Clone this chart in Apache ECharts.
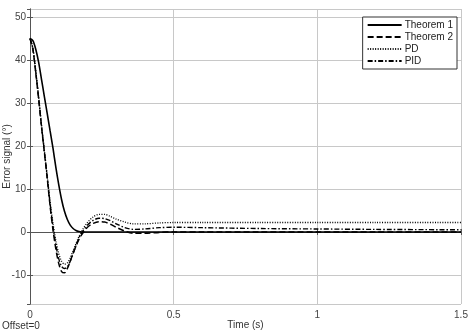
<!DOCTYPE html>
<html>
<head>
<meta charset="utf-8">
<script src="https://cdn.jsdelivr.net/npm/echarts@6/dist/echarts.min.js"></script>
<style>html,body{margin:0;padding:0;background:#fff}#c{width:474px;height:336px}</style>
</head>
<body>
<div id="c"></div>
<script>
var time = [0,0.01,0.02,0.03,0.04,0.05,0.06,0.07,0.08,0.09,0.10,0.11,0.12,0.13,0.14,0.15,0.16,0.17,0.18,0.19,0.20,0.22,0.24,0.26,0.28,0.30,0.33,0.36,0.40,0.45,0.50,0.60,0.80,1.00,1.20,1.50];
var theorem1 = [45,44.5,42.5,39.5,35.5,31.5,27.5,23.5,19.5,15,11,7.5,4.8,2.9,1.6,0.8,0.35,0.1,0,0,0,0,0,0,0,0,0,0,0,0,0,0,0,0,0,0];
var theorem2 = [45,42.5,37,31,24.5,18.5,12.5,6,0.5,-4,-7.3,-9.2,-9.5,-8.5,-6.8,-5,-3.3,-1.8,-0.6,0.3,1.1,2.0,2.4,2.3,1.8,1.1,0.2,-0.3,-0.3,-0.1,0,0,0,0,0,0];
var pd = [45,42.8,37.5,31.5,25,19,13,7,2,-2,-5,-6.8,-7.5,-7.2,-6,-4.4,-2.7,-1.1,0.2,1.3,2.2,3.5,4.1,4.1,3.6,3.0,2.3,1.9,1.9,2.1,2.2,2.2,2.2,2.2,2.2,2.2];
var pid = [45,42.6,37.2,31.2,24.7,18.7,12.7,6.5,1.2,-3,-6.2,-8,-8.5,-8.1,-6.8,-5,-3.2,-1.5,-0.2,0.8,1.6,2.7,3.2,3.1,2.6,1.9,1.0,0.6,0.7,1.0,1.1,1.0,0.8,0.7,0.6,0.5];
var seriesNames = ['Theorem 1','Theorem 2','PD','PID'];
var xTicks = ['0','0.5','1','1.5'];

function pts(v){ return time.map(function(t,i){ return [t, v[i]]; }); }

var font = 'Liberation Sans, Arial, sans-serif';
var chart = echarts.init(document.getElementById('c'));
var axisCol = '#555';
var gridCol = '#c8c8c8';
chart.setOption({
  animation: false,
  backgroundColor: '#fff',
  grid: {left: 30, right: 13, top: 9, bottom: 32, containLabel: false, outerBoundsMode: 'none'},
  legend: {
    right: 17, top: 17,
    orient: 'vertical',
    backgroundColor: '#fff',
    borderColor: '#333', borderWidth: 1,
    padding: [3, 4, 3, 4],
    itemGap: 2, itemWidth: 34, itemHeight: 10,
    itemStyle: {color: 'rgba(0,0,0,0)', borderWidth: 0},
    textStyle: {fontFamily: font, fontSize: 10, color: '#222', padding: [0,0,0,-2]},
    data: seriesNames
  },
  xAxis: [{
    type: 'value', min: 0, max: 1.5, interval: 0.5,
    name: 'Time (s)', nameLocation: 'middle', nameGap: 16, nameMoveOverlap: false,
    nameTextStyle: {fontFamily: font, fontSize: 10, color: '#333'},
    axisLine: {lineStyle: {color: axisCol}},
    axisTick: {inside: true, length: 3, lineStyle: {color: axisCol}},
    axisLabel: {fontFamily: font, fontSize: 10, color: '#444', margin: 6,
      formatter: function(v){ var i = Math.round(v/0.5); return xTicks[i] || ''; }},
    splitLine: {show: true, lineStyle: {color: gridCol, width: 1}}
  },{
    type: 'value', min: 0, max: 1.5, interval: 0.5, position: 'top',
    axisLine: {show: true, lineStyle: {color: axisCol}},
    axisTick: {inside: true, length: 3, lineStyle: {color: axisCol}},
    axisLabel: {show: false}, splitLine: {show: false}
  }],
  yAxis: [{
    type: 'value', min: -16.75, max: 51.85, minInterval: 10, maxInterval: 10,
    name: 'Error signal (°)', nameLocation: 'middle', nameGap: 18, nameMoveOverlap: false,
    nameTextStyle: {fontFamily: font, fontSize: 10, color: '#333'},
    axisLine: {show: true, lineStyle: {color: axisCol}},
    axisTick: {inside: true, length: 3, lineStyle: {color: axisCol}},
    axisLabel: {fontFamily: font, fontSize: 10, color: '#444', margin: 4, showMinLabel: false, showMaxLabel: false},
    splitLine: {show: true, lineStyle: {color: gridCol, width: 1}}
  },{
    type: 'value', min: -16.75, max: 51.85, minInterval: 10, maxInterval: 10, position: 'right',
    axisLine: {show: true, lineStyle: {color: axisCol}},
    axisTick: {inside: true, length: 3, lineStyle: {color: axisCol}},
    axisLabel: {show: false}, splitLine: {show: false}
  }],
  graphic: [{
    type: 'text', left: 2, top: 321,
    style: {text: 'Offset=0', fontFamily: font, fontSize: 10, fill: '#333'}
  }],
  series: [
    {name: seriesNames[0], type: 'line', data: pts(theorem1), symbol: 'none', smooth: 0.3,
     lineStyle: {color: '#000', width: 1.6, type: 'solid'}, itemStyle: {color: '#000'}, z: 5},
    {name: seriesNames[1], type: 'line', data: pts(theorem2), symbol: 'none', smooth: 0.3,
     lineStyle: {color: '#000', width: 1.5, type: [6, 3]}, itemStyle: {color: '#000'}, z: 4},
    {name: seriesNames[2], type: 'line', data: pts(pd), symbol: 'none', smooth: 0.3,
     lineStyle: {color: '#000', width: 1.3, type: [1, 1.5]}, itemStyle: {color: '#000'}, z: 3},
    {name: seriesNames[3], type: 'line', data: pts(pid), symbol: 'none', smooth: 0.3,
     lineStyle: {color: '#000', width: 1.4, type: [5, 2, 1.5, 2]}, itemStyle: {color: '#000'}, z: 3}
  ]
});
</script>
</body>
</html>
